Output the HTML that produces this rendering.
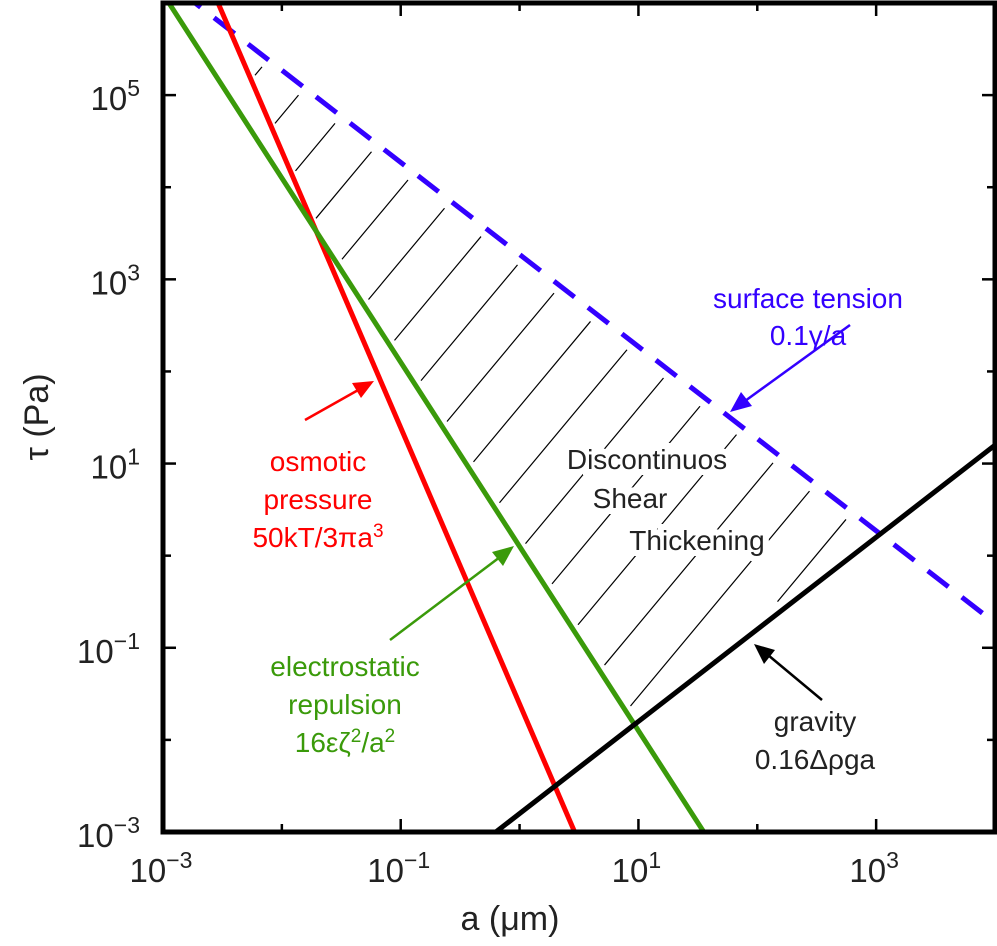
<!DOCTYPE html>
<html><head><meta charset="utf-8"><style>
html,body{margin:0;background:#fff;width:997px;height:946px;overflow:hidden}
#wrap{position:relative;width:997px;height:946px}
svg{display:block;font-family:"Liberation Sans",sans-serif}
</style></head><body>
<div id="wrap">
<svg id="chart" width="997" height="946" viewBox="0 0 997 946">
<g id="hatch"></g>
<g id="lines"></g>
<g id="axes"></g>
</svg>
<svg style="position:absolute;left:0;top:0" width="997" height="946">
<g font-family="Liberation Sans, sans-serif" font-size="28" text-anchor="middle">
<text x="510" y="930" font-size="34" fill="#222">a (μm)</text>
<text transform="translate(48,417) rotate(-90)" font-size="34" fill="#222">τ (Pa)</text>
<g fill="#3300ff" stroke="#fff" stroke-width="8" paint-order="stroke"><text x="808" y="308">surface tension</text><text x="808" y="345">0.1γ/a</text></g>
<g fill="#ff0000"><text x="318" y="471">osmotic</text><text x="318" y="509">pressure</text><text x="318" y="547">50kT/3πa<tspan dy="-10" font-size="19">3</tspan></text></g>
<g fill="#3a9a0a"><text x="345" y="676">electrostatic</text><text x="345" y="714">repulsion</text><text x="345" y="752">16εζ<tspan dy="-10" font-size="19">2</tspan><tspan dy="10">/a</tspan><tspan dy="-10" font-size="19">2</tspan></text></g>
<g fill="#222"><text x="815" y="731">gravity</text><text x="815" y="769">0.16Δρga</text></g>
<g fill="#222" stroke="#fff" stroke-width="12" paint-order="stroke"><text x="647" y="469">Discontinuos</text><text x="630" y="508">Shear</text><text x="697" y="550">Thickening</text></g>
<g stroke-width="2.5">
<line x1="305" y1="420" x2="360" y2="389" stroke="#ff0000"/><path d="M374,381 L352,383 L361,398 z" fill="#ff0000"/>
<line x1="390" y1="640" x2="500" y2="557" stroke="#3a9a0a"/><path d="M514,546 L492,552 L503,566 z" fill="#3a9a0a"/>
<line x1="850" y1="325" x2="745" y2="401" stroke="#3300ff"/><path d="M730,412 L741,392 L752,406 z" fill="#3300ff"/>
<line x1="822" y1="700" x2="768" y2="655" stroke="#000"/><path d="M754,644 L775,650 L764,664 z" fill="#000"/>
</g>
</g>
</svg>
</div>
<script>
// log10 coefficients: log10(tau) = c + slope*log10(a)
const seriesNames = ['surface-tension','osmotic','electrostatic','gravity'];
const seriesIntercepts = [3.27, -1.61, 0.1, -2.8];
const seriesSlopes = [-1, -3, -2, 1];
const seriesColors = ['#3300ff','#ff0000','#3a9a0a','#000000'];
const xTicks = [-3,-1,1,3];
const yTicks = [-3,-1,1,3,5];
const xMinor = [-2,0,2];
const yMinor = [-2,0,2,4];

const L=163,R=995,T=3,B=832;
const xmin=-3,xmax=4,ymin=-3,ymax=6;
const X=v=>L+(v-xmin)/(xmax-xmin)*(R-L);
const Y=v=>B-(v-ymin)/(ymax-ymin)*(B-T);
const Xi=p=>xmin+(p-L)/(R-L)*(xmax-xmin);
const NS='http://www.w3.org/2000/svg';
function mk(tag,attrs,parent,text){const e=document.createElementNS(NS,tag);for(const k in attrs)e.setAttribute(k,attrs[k]);if(text!==undefined)e.textContent=text;parent.appendChild(e);return e;}
const linesG=document.getElementById('lines');
const clipP=mk('clipPath',{id:'pc'},document.getElementById('chart'));
mk('rect',{x:L,y:T,width:R-L,height:B-T},clipP);
linesG.setAttribute('clip-path','url(#pc)');
const yAt=(i,lx)=>Y(seriesIntercepts[i]+seriesSlopes[i]*lx);
seriesNames.forEach((n,i)=>{
  const x0=xmin-1,x1=xmax+1;
  const l=mk('line',{x1:X(x0),y1:yAt(i,x0),x2:X(x1),y2:yAt(i,x1),stroke:seriesColors[i],'stroke-width':5},linesG);
  if(i===0){l.setAttribute('stroke-dasharray','26 17');}
  
  
});
// hatch
const hatchG=document.getElementById('hatch');
const topB=px=>yAt(0,Xi(px))+12;
const botB=px=>Math.min(yAt(1,Xi(px)),yAt(2,Xi(px)),yAt(3,Xi(px)))-12;
for(let sx=262;sx<860;sx+=36.5){
  let x=sx,y=topB(sx);const k=1.2;
  if(botB(x)<=y)continue;
  let ex=x,ey=y;
  while(ex>L){const nx=ex-0.5,ny=ey+0.5*k;if(ny>=botB(nx))break;ex=nx;ey=ny;}
  const h=mk('line',{x1:x,y1:y,x2:ex,y2:ey,stroke:'#000','stroke-width':1.2},hatchG);
  
  
}
// axes
const axG=document.getElementById('axes');
mk('rect',{x:L,y:T,width:R-L,height:B-T,fill:'none',stroke:'#000','stroke-width':5,},axG);
xTicks.forEach(v=>{
  mk('line',{x1:X(v),y1:B,x2:X(v),y2:B-13,stroke:'#000','stroke-width':2.5},axG);
  mk('line',{x1:X(v),y1:T,x2:X(v),y2:T+13,stroke:'#000','stroke-width':2.5},axG);
  const t=mk('text',{x:X(v)-2,y:882,'font-size':33,'text-anchor':'middle',fill:'#222'},axG);
  
  
  mk('tspan',{},t,'10');mk('tspan',{dy:-14,'font-size':23},t,(v<0?'\u2212':'')+Math.abs(v));
});
xMinor.forEach(v=>{
  mk('line',{x1:X(v),y1:B,x2:X(v),y2:B-8,stroke:'#000','stroke-width':2.5},axG);
  mk('line',{x1:X(v),y1:T,x2:X(v),y2:T+8,stroke:'#000','stroke-width':2.5},axG);
});
yTicks.forEach(v=>{
  mk('line',{x1:L,y1:Y(v),x2:L+13,y2:Y(v),stroke:'#000','stroke-width':2.5},axG);
  mk('line',{x1:R,y1:Y(v),x2:R-13,y2:Y(v),stroke:'#000','stroke-width':2.5},axG);
  const t=mk('text',{x:140,y:Y(v)+15,'font-size':33,'text-anchor':'end',fill:'#222'},axG);
  
  
  mk('tspan',{},t,'10');mk('tspan',{dy:-14,'font-size':23},t,(v<0?'\u2212':'')+Math.abs(v));
});
yMinor.forEach(v=>{
  mk('line',{x1:L,y1:Y(v),x2:L+8,y2:Y(v),stroke:'#000','stroke-width':2.5},axG);
  mk('line',{x1:R,y1:Y(v),x2:R-8,y2:Y(v),stroke:'#000','stroke-width':2.5},axG);
});
</script>
</body></html>
